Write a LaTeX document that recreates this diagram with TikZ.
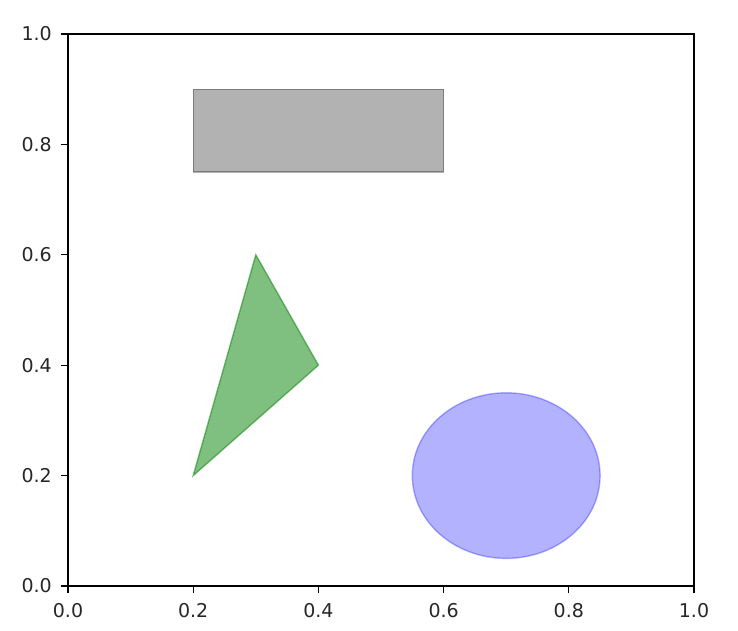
\documentclass[tikz,border=0pt]{standalone}
\usepackage{fontspec}
\setmainfont{DejaVu Sans}
\begin{document}
\begin{tikzpicture}[x=626pt,y=552pt,
  spine/.style={line width=1.1pt,black},
  tickmark/.style={line width=1.1pt,black},
  ticklab/.style={font=\fontsize{19}{22}\selectfont,inner sep=0pt,text=black!85}]
\useasboundingbox (-68pt,-44pt) rectangle (670pt,586pt);
% patches
\filldraw[fill=black,draw=black,fill opacity=0.3,draw opacity=0.3,line width=1.4pt]
  (0.2,0.75) rectangle (0.6,0.9);
\filldraw[fill=green!50!black,draw=green!50!black,fill opacity=0.5,draw opacity=0.5,line width=1.4pt,line join=miter]
  (0.2,0.2) -- (0.3,0.6) -- (0.4,0.4) -- cycle;
\filldraw[fill=blue,draw=blue,fill opacity=0.3,draw opacity=0.3,line width=1.4pt]
  (0.7,0.2) ellipse [x radius=0.15, y radius=0.15];
% ticks and labels
\foreach \v/\n in {0/0.0,0.2/0.2,0.4/0.4,0.6/0.6,0.8/0.8,1/1.0}{
  \draw[tickmark] (\v,0) -- ++(0,-7pt);
  \node[ticklab,anchor=north] (xl\v) at ([yshift=-17pt]\v,0) {\n};
  \draw[tickmark] (0,\v) -- ++(-7pt,0);
  \node[ticklab,anchor=east] (yl\v) at ([xshift=-16pt]0,\v) {\n};
}
% spines
\draw[spine,line cap=rect] (0,0) rectangle (1,1);
\end{tikzpicture}
\end{document}
